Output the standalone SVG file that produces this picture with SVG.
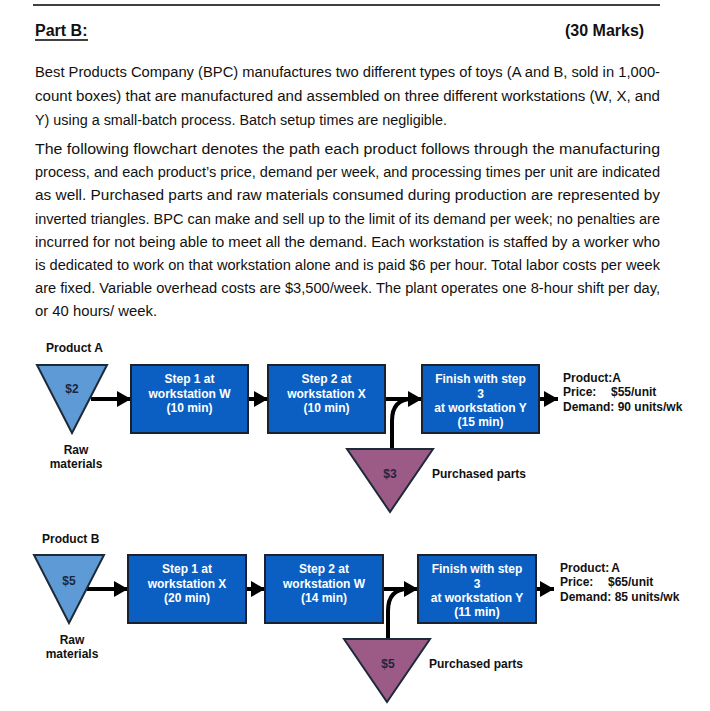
<svg xmlns="http://www.w3.org/2000/svg" width="710" height="711" viewBox="0 0 710 711">
<defs>
<style>
.p{font-family:"Liberation Sans",Arial,sans-serif;font-size:14px;fill:#111}
.h{font-family:"Liberation Sans",Arial,sans-serif;font-size:16px;font-weight:bold;fill:#111}
.b{font-family:"Liberation Sans",Arial,sans-serif;font-size:12px;font-weight:bold;fill:#111}
.w{font-family:"Liberation Sans",Arial,sans-serif;font-size:12px;font-weight:bold;fill:#fff;text-anchor:middle}
.t{font-family:"Liberation Sans",Arial,sans-serif;font-size:12px;font-weight:bold;fill:#1b2740;text-anchor:middle}
.c{text-anchor:middle}
.box{fill:#0b5fc3;stroke:#1a2230;stroke-width:2}
.raw{fill:#5e9bd6;stroke:#1d2a38;stroke-width:2}
.pur{fill:#9c5a87;stroke:#1d2a38;stroke-width:2}
.con{fill:none;stroke:#000;stroke-width:4}
</style>
<marker id="ah" markerUnits="userSpaceOnUse" markerWidth="14" markerHeight="16" refX="14" refY="8" orient="auto">
<path d="M0,0 L14,8 L0,16 z" fill="#000"/>
</marker>
</defs>

<line x1="33" y1="5" x2="660" y2="5" stroke="#000" stroke-width="1.5"/>
<text class="h" x="35" y="36">Part B:</text>
<line x1="35" y1="40" x2="88" y2="40" stroke="#000" stroke-width="1.5"/>
<text class="h" x="565" y="36">(30 Marks)</text>

<text class="p" x="35" y="77" textLength="625" lengthAdjust="spacingAndGlyphs">Best Products Company (BPC) manufactures two different types of toys (A and B, sold in 1,000-</text>
<text class="p" x="35" y="101" textLength="625" lengthAdjust="spacingAndGlyphs">count boxes) that are manufactured and assembled on three different workstations (W, X, and</text>
<text class="p" x="35" y="125" textLength="412" lengthAdjust="spacingAndGlyphs">Y) using a small-batch process. Batch setup times are negligible.</text>

<text class="p" x="35" y="154" textLength="625" lengthAdjust="spacingAndGlyphs">The following flowchart denotes the path each product follows through the manufacturing</text>
<text class="p" x="35" y="177" textLength="625" lengthAdjust="spacingAndGlyphs">process, and each product’s price, demand per week, and processing times per unit are indicated</text>
<text class="p" x="35" y="200" textLength="625" lengthAdjust="spacingAndGlyphs">as well. Purchased parts and raw materials consumed during production are represented by</text>
<text class="p" x="35" y="224" textLength="625" lengthAdjust="spacingAndGlyphs">inverted triangles. BPC can make and sell up to the limit of its demand per week; no penalties are</text>
<text class="p" x="35" y="247" textLength="625" lengthAdjust="spacingAndGlyphs">incurred for not being able to meet all the demand. Each workstation is staffed by a worker who</text>
<text class="p" x="35" y="270" textLength="625" lengthAdjust="spacingAndGlyphs">is dedicated to work on that workstation alone and is paid $6 per hour. Total labor costs per week</text>
<text class="p" x="35" y="293" textLength="625" lengthAdjust="spacingAndGlyphs">are fixed. Variable overhead costs are $3,500/week. The plant operates one 8-hour shift per day,</text>
<text class="p" x="35" y="316" textLength="122" lengthAdjust="spacingAndGlyphs">or 40 hours/ week.</text>

<g id="connectors">
<line class="con" x1="91" y1="399" x2="131" y2="399" marker-end="url(#ah)"/>
<line class="con" x1="248" y1="399" x2="268" y2="399" marker-end="url(#ah)"/>
<line class="con" x1="385" y1="399" x2="422" y2="399" marker-end="url(#ah)"/>
<path class="con" d="M392,449 L392,421 Q392,399 412,399"/>
<line class="con" x1="539" y1="399" x2="558" y2="399" marker-end="url(#ah)"/>

<line class="con" x1="87" y1="589" x2="128" y2="589" marker-end="url(#ah)"/>
<line class="con" x1="246" y1="589" x2="265" y2="589" marker-end="url(#ah)"/>
<line class="con" x1="383" y1="589" x2="418" y2="589" marker-end="url(#ah)"/>
<path class="con" d="M388,639 L388,611 Q388,589 408,589"/>
<line class="con" x1="536" y1="589" x2="554" y2="589" marker-end="url(#ah)"/>
</g>

<g id="productA">
<text class="b" x="46" y="352">Product A</text>
<g id="rawA">
<polygon class="raw" points="37,365 107,365 72,433"/>
<text class="t" x="72" y="393">$2</text>
<text class="b c" x="76" y="454">Raw</text>
<text class="b c" x="76" y="468">materials</text>
</g>
<g id="A1">
<rect class="box" x="131" y="365" width="117" height="68"/>
<text class="w" x="189.5" y="383">Step 1 at</text>
<text class="w" x="189.5" y="398">workstation W</text>
<text class="w" x="189.5" y="412">(10 min)</text>
</g>
<g id="A2">
<rect class="box" x="268" y="365" width="117" height="68"/>
<text class="w" x="326.5" y="383">Step 2 at</text>
<text class="w" x="326.5" y="398">workstation X</text>
<text class="w" x="326.5" y="412">(10 min)</text>
</g>
<g id="A3">
<rect class="box" x="422" y="365" width="117" height="68"/>
<text class="w" x="480.5" y="383">Finish with step</text>
<text class="w" x="480.5" y="398">3</text>
<text class="w" x="480.5" y="412">at workstation Y</text>
<text class="w" x="480.5" y="426">(15 min)</text>
</g>
<g id="purA">
<polygon class="pur" points="347,449 433,449 390,512"/>
<text class="t" x="390" y="478">$3</text>
<text class="b" x="432" y="478">Purchased parts</text>
</g>
<g id="outA">
<text class="b" x="563" y="382">Product:A</text>
<text class="b" x="563" y="396">Price:</text>
<text class="b" x="611" y="396">$55/unit</text>
<text class="b" x="563" y="411">Demand: 90 units/wk</text>
</g>
</g>

<g id="productB">
<text class="b" x="42" y="543">Product B</text>
<g id="rawB">
<polygon class="raw" points="34,555 104,555 69,623"/>
<text class="t" x="69" y="585">$5</text>
<text class="b c" x="72" y="644">Raw</text>
<text class="b c" x="72" y="658">materials</text>
</g>
<g id="B1">
<rect class="box" x="128" y="555" width="118" height="68"/>
<text class="w" x="187" y="573">Step 1 at</text>
<text class="w" x="187" y="588">workstation X</text>
<text class="w" x="187" y="602">(20 min)</text>
</g>
<g id="B2">
<rect class="box" x="265" y="555" width="118" height="68"/>
<text class="w" x="324" y="573">Step 2 at</text>
<text class="w" x="324" y="588">workstation W</text>
<text class="w" x="324" y="602">(14 min)</text>
</g>
<g id="B3">
<rect class="box" x="418" y="555" width="118" height="68"/>
<text class="w" x="477" y="573">Finish with step</text>
<text class="w" x="477" y="588">3</text>
<text class="w" x="477" y="602">at workstation Y</text>
<text class="w" x="477" y="616">(11 min)</text>
</g>
<g id="purB">
<polygon class="pur" points="344,639 430,639 387,702"/>
<text class="t" x="388" y="668">$5</text>
<text class="b" x="429" y="668">Purchased parts</text>
</g>
<g id="outB">
<text class="b" x="560" y="572">Product:<tspan dx="2">A</tspan></text>
<text class="b" x="560" y="586">Price:</text>
<text class="b" x="608" y="586">$65/unit</text>
<text class="b" x="560" y="601">Demand: 85 units/wk</text>
</g>
</g>
</svg>
